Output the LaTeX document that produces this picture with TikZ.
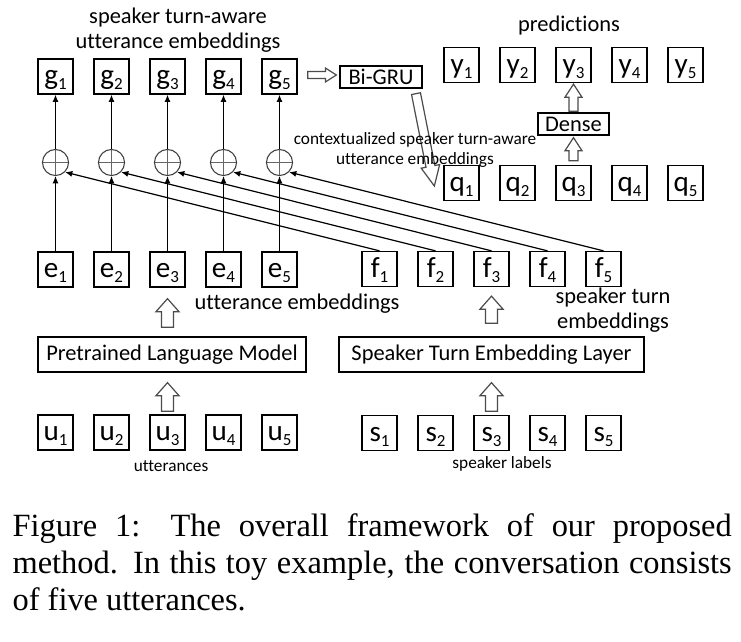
\documentclass[tikz,border=0pt]{standalone}
\usepackage{fontspec}
\setmainfont[Ligatures=NoCommon]{Carlito}
\newfontfamily\capfont{Liberation Serif}
\usetikzlibrary{arrows.meta,calc}

% letter with a small index
\newcommand{\vlab}[2]{#1\raisebox{-1.5pt}{\fontsize{5.6}{6}\selectfont #2}}
% hollow block arrow: shaft half width, head half width, head length, from, to
\newcommand{\fatarrow}[5]{%
\draw[hollow] let \p1=($(#5)-(#4)$), \n1={atan2(\y1,\x1)}, \n2={veclen(\x1,\y1)} in
  ([shift={(#4)},rotate=\n1]0pt,#1) -- ([shift={(#4)},rotate=\n1]{\n2*1pt-#3},#1)
  -- ([shift={(#4)},rotate=\n1]{\n2*1pt-#3},#2) -- ([shift={(#4)},rotate=\n1]{\n2*1pt},0pt)
  -- ([shift={(#4)},rotate=\n1]{\n2*1pt-#3},-#2) -- ([shift={(#4)},rotate=\n1]{\n2*1pt-#3},-#1)
  -- ([shift={(#4)},rotate=\n1]0pt,-#1) -- cycle;}

\begin{document}
\begin{tikzpicture}[x=0.33pt,y=-0.33pt,
  box/.style={draw,line width=0.43pt,minimum width=11.55pt,minimum height=11.55pt,inner sep=0pt,
    text height=6.3pt,text depth=0.7pt,font=\fontsize{9.6}{10}\selectfont},
  layer/.style={draw,line width=0.43pt,minimum height=11.55pt,inner sep=0pt,font=\fontsize{7.4}{8}\selectfont},
  unit/.style={draw,line width=0.43pt,minimum height=7.26pt,inner sep=0pt,font=\fontsize{7.4}{8}\selectfont},
  oplus/.style={circle,draw=black!75,line width=0.35pt,minimum size=8.6pt,inner sep=0pt,
    path picture={\draw[black!60,line width=0.3pt]
      (path picture bounding box.north) -- (path picture bounding box.south)
      (path picture bounding box.west) -- (path picture bounding box.east);}},
  conn/.style={-{Latex[length=2.4pt,width=2pt]},line width=0.4pt},
  hollow/.style={draw=black!70,fill=white,line width=0.4pt},
  note/.style={inner sep=0pt,font=\fontsize{7.4}{8.3}\selectfont,align=center},
  minor/.style={inner sep=0pt,font=\fontsize{5.7}{6.8}\selectfont,align=center}]
\useasboundingbox (0,0) rectangle (741,642);

% turn-aware utterance embeddings
\node[box] (g1) at (55.5,76.5) {\vlab{g}{1}};
\node[box] (g2) at (111.5,76.5) {\vlab{g}{2}};
\node[box] (g3) at (167.5,76.5) {\vlab{g}{3}};
\node[box] (g4) at (223.5,76.5) {\vlab{g}{4}};
\node[box] (g5) at (279.5,76.5) {\vlab{g}{5}};
% sums
\node[oplus] (c1) at (55.5,162.5) {};
\node[oplus] (c2) at (111.5,162.5) {};
\node[oplus] (c3) at (167.5,162.5) {};
\node[oplus] (c4) at (223.5,162.5) {};
\node[oplus] (c5) at (279.5,162.5) {};
% utterance embeddings
\node[box] (e1) at (55.5,269.5) {\vlab{e}{1}};
\node[box] (e2) at (111.5,269.5) {\vlab{e}{2}};
\node[box] (e3) at (167.5,269.5) {\vlab{e}{3}};
\node[box] (e4) at (223.5,269.5) {\vlab{e}{4}};
\node[box] (e5) at (279.5,269.5) {\vlab{e}{5}};
% speaker turn embeddings
\node[box] (f1) at (379.5,269) {\vlab{f}{1}};
\node[box] (f2) at (435.5,269) {\vlab{f}{2}};
\node[box] (f3) at (491.5,269) {\vlab{f}{3}};
\node[box] (f4) at (547.5,269) {\vlab{f}{4}};
\node[box] (f5) at (603.5,269) {\vlab{f}{5}};
% utterances
\node[box] (u1) at (55.5,432.5) {\vlab{u}{1}};
\node[box] (u2) at (111.5,432.5) {\vlab{u}{2}};
\node[box] (u3) at (167.5,432.5) {\vlab{u}{3}};
\node[box] (u4) at (223.5,432.5) {\vlab{u}{4}};
\node[box] (u5) at (279.5,432.5) {\vlab{u}{5}};
% speaker labels
\node[box] (s1) at (379.5,433) {\vlab{s}{1}};
\node[box] (s2) at (435.5,433) {\vlab{s}{2}};
\node[box] (s3) at (491.5,433) {\vlab{s}{3}};
\node[box] (s4) at (547.5,433) {\vlab{s}{4}};
\node[box] (s5) at (603.5,433) {\vlab{s}{5}};
% predictions
\node[box] (y1) at (461.5,65) {\vlab{y}{1}};
\node[box] (y2) at (517.5,65) {\vlab{y}{2}};
\node[box] (y3) at (573.5,65) {\vlab{y}{3}};
\node[box] (y4) at (629.5,65) {\vlab{y}{4}};
\node[box] (y5) at (685.5,65) {\vlab{y}{5}};
% contextualized embeddings
\node[box] (q1) at (461.5,183) {\vlab{q}{1}};
\node[box] (q2) at (517.5,183) {\vlab{q}{2}};
\node[box] (q3) at (573.5,183) {\vlab{q}{3}};
\node[box] (q4) at (629.5,183) {\vlab{q}{4}};
\node[box] (q5) at (685.5,183) {\vlab{q}{5}};
% layers
\node[layer,minimum width=88.44pt] (plm) at (172,354.5) {Pretrained Language Model};
\node[layer,minimum width=100.65pt] (stel) at (491.5,354.5) {Speaker Turn Embedding Layer};
\node[unit,minimum width=27.06pt] (gru) at (381,77) {Bi-GRU};
\node[unit,minimum width=23.43pt] (dense) at (573.5,124) {Dense};

\path[conn]
% e plus f gives g
(e1) edge (c1) (c1) edge (g1)
(e2) edge (c2) (c2) edge (g2)
(e3) edge (c3) (c3) edge (g3)
(e4) edge (c4) (c4) edge (g4)
(e5) edge (c5) (c5) edge (g5);

\path[conn]
(f1.north) edge (c1.south east)
(f2.north) edge (c2.south east)
(f3.north) edge (c3.south east)
(f4.north) edge (c4.south east)
(f5.north) edge (c5.south east);

% block arrows
\coordinate (lm1) at ($(u3.north)+(0,-3)$);
\coordinate (lm2) at ($(plm.south -| u3)+(0,10)$);
\coordinate (lm3) at ($(plm.north -| e3)+(0,-9)$);
\coordinate (lm4) at ($(e3.south)+(0,11)$);
\coordinate (st1) at ($(s3.north)+(0,-3.5)$);
\coordinate (st2) at ($(stel.south -| s3)+(0,10)$);
\coordinate (st3) at ($(stel.north -| f3)+(0,-13)$);
\coordinate (st4) at ($(f3.south)+(0,9)$);
\coordinate (gr1) at ($(g5.east)+(10,-1.5)$);
\coordinate (gr2) at ($(gru.west)+(-3,-2)$);
\coordinate (gr3) at ($(gru.south)+(35,5)$);
\coordinate (gr4) at ($(q1.west)+(-9,3)$);
\coordinate (dn1) at ($(q3.north)+(0,-4)$);
\coordinate (dn2) at ($(dense.south -| q3)+(0,2)$);
\coordinate (dn3) at ($(dense.north -| y3)+(0,-1)$);
\coordinate (dn4) at ($(y3.south)+(0,1)$);
\fatarrow{2pt}{3.8pt}{4.3pt}{lm1}{lm2}
\fatarrow{2pt}{3.8pt}{4.3pt}{lm3}{lm4}
\fatarrow{2pt}{3.8pt}{4.3pt}{st1}{st2}
\fatarrow{2pt}{3.8pt}{4.3pt}{st3}{st4}
\fatarrow{1.15pt}{2.3pt}{3.6pt}{gr1}{gr2}
\fatarrow{1.5pt}{3.1pt}{6.6pt}{gr3}{gr4}
\fatarrow{1.5pt}{2.8pt}{4.3pt}{dn1}{dn2}
\fatarrow{1.5pt}{2.8pt}{4.3pt}{dn3}{dn4}

% labels
\node[note] (hg) at (178,30.5) {speaker turn-aware\\utterance embeddings};
\node[note,anchor=base] (hy) at (569,31.7) {predictions};
\node[minor] (hq) at (415,150) {contextualized speaker turn-aware\\utterance embeddings};
\node[note,anchor=base] (he) at (297,309) {utterance embeddings};
\node[note] (hf) at (613,310.4) {speaker turn\\embeddings};
\node[minor,anchor=base] (hu) at (171,471) {utterances};
\node[minor,anchor=base] (hs) at (502,468) {speaker labels};

% caption
\node[anchor=north west,inner sep=0pt,text width=237.3pt,align=justify,
  font=\capfont\fontsize{10.7}{12.2}\selectfont] (cap) at (12,513)
  {Figure 1: The overall framework of our proposed\linebreak method. In this toy example, the conversation consists\linebreak of five utterances.};
\end{tikzpicture}
\end{document}
